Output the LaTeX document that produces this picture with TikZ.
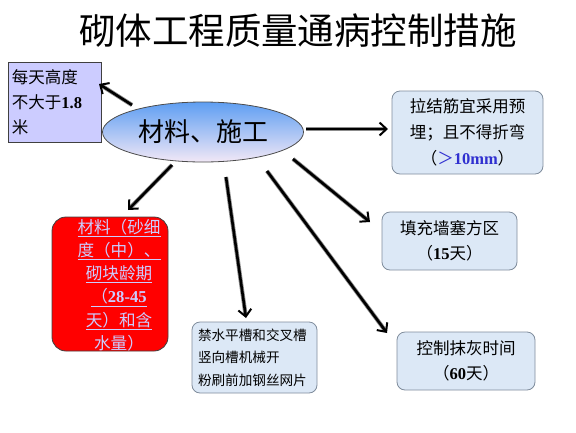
\documentclass[tikz,border=0pt]{standalone}
\usepackage{fontspec}
\setmainfont{Noto Sans CJK SC}
\newfontfamily\numf{Liberation Serif}
\usetikzlibrary{shapes.geometric,arrows.meta}
\definecolor{boxfill}{HTML}{DCE8F6}
\definecolor{boxline}{HTML}{7F8C9C}
\definecolor{lav}{HTML}{CCCCFF}
\definecolor{ellTop}{HTML}{5E9EF2}
\definecolor{ellBot}{HTML}{F2E8F6}
\definecolor{numblue}{HTML}{3030D0}
\newcommand{\nb}[1]{{\numf\bfseries #1}}
\newcommand{\ul}[1]{\underline{#1}}
\tikzset{
  bluebox/.style={draw=boxline, line width=0.8pt, fill=boxfill, rounded corners=8pt,
    align=center, inner sep=0pt},
  arr/.style={line width=2.6pt, black,
    -{Straight Barb[length=7pt,width=13pt,line width=2pt]},
    preaction={draw=black!45, line width=4.2pt, shorten >=4pt, -{}}},
}
\begin{document}
\begin{tikzpicture}[x=1pt,y=-1pt]
\path[use as bounding box] (0,0) rectangle (576,432);

% title
\node[font={\fontsize{36.5}{40}\selectfont}] (title) at (298,31) {砌体工程质量通病控制措施};

% purple box
\node[draw=black!75, line width=0.8pt, fill=lav, minimum width=93pt, minimum height=80pt,
  text width=85pt, align=left, inner sep=0pt, font={\fontsize{16.5}{25}\selectfont}] (pbox) at (54.5,102)
  {每天高度\\不大于\nb{1.8}\\米};

% ellipse
\node[ellipse, draw=black!70, line width=0.8pt, minimum width=201pt, minimum height=60pt,
  inner sep=0pt, top color=ellTop, bottom color=ellBot, font={\fontsize{26}{30}\selectfont}] (ell) at (203,132)
  {材料、施工};

% top right box
\node[bluebox, minimum width=151pt, minimum height=83pt, font={\fontsize{16.5}{26}\selectfont}] (tr) at (467.5,132.5)
  {拉结筋宜采用预\\埋；且不得折弯\\（\textcolor{numblue}{＞\nb{10mm}}）};

% fill wall box
\node[bluebox, minimum width=135pt, minimum height=58pt, font={\fontsize{16.5}{25}\selectfont}] (fw) at (449.5,241)
  {填充墙塞方区\\（\nb{15}天）};

% plaster box
\node[bluebox, minimum width=138pt, minimum height=58pt, font={\fontsize{16.5}{25}\selectfont}] (pl) at (466,361)
  {控制抹灰时间\\（\nb{60}天）};

% groove box
\node[bluebox, minimum width=125pt, minimum height=71pt, text width=113pt, align=left,
  font={\fontsize{13.6}{22.5}\selectfont}] (gr) at (254.5,357.5)
  {禁水平槽和交叉槽\\竖向槽机械开\\粉刷前加钢丝网片};

% red box
\node[draw=black!75, line width=0.8pt, fill=red, rounded corners=14pt,
  minimum width=116pt, minimum height=134pt, inner sep=0pt] (rb) at (110,284) {};
\node[text=lav, align=center, inner sep=0pt, font={\fontsize{16.6}{23.2}\selectfont}] (rt) at (119,285)
  {\ul{材料（砂细}\\\ul{度（中）、}\\\ul{砌块龄期}\\\ul{（\nb{28-45}}\\\ul{天）和含}\\水量）};

% connectors
\coordinate (t1) at (132,105); \coordinate (h1) at (99,84);
\coordinate (t2) at (306,129); \coordinate (h2) at (388,129);
\coordinate (t3) at (172,165); \coordinate (h3) at (128,210);
\coordinate (t4) at (226,177); \coordinate (h4) at (246,318);
\coordinate (t5) at (293,159); \coordinate (h5) at (370,222);
\coordinate (t6) at (267,171); \coordinate (h6) at (387,333);
\draw[arr] (t1) -- (h1);
\draw[arr] (t2) -- (h2);
\draw[arr] (t3) -- (h3);
\draw[arr] (t4) -- (h4);
\draw[arr] (t5) -- (h5);
\draw[arr] (t6) -- (h6);
\end{tikzpicture}
\end{document}
